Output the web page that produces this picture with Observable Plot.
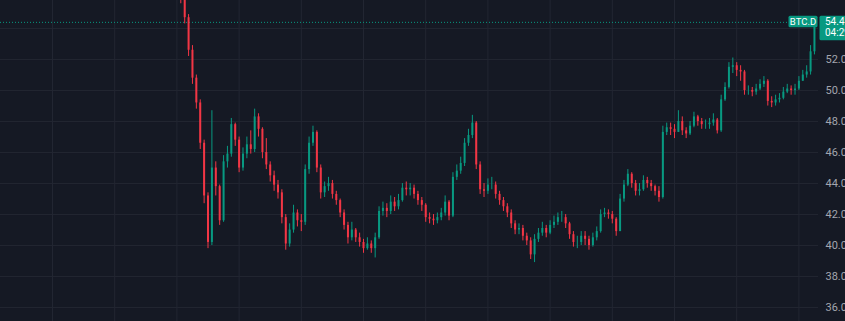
<!DOCTYPE html>
<html><head><meta charset="utf-8">
<script src="https://cdn.jsdelivr.net/npm/d3@7"></script>
<script src="https://cdn.jsdelivr.net/npm/@observablehq/plot@0.6"></script>
<style>html,body{margin:0;padding:0;background:#151924;overflow:hidden}</style>
</head><body><div id="chart"></div>
<script>
const symbol = "BTC.D";
const countdown = "04:29";
const lastPriceText = "54.41";
const firstIndex = 33;
const firstOpen = 58.0;
const closes = [
56.0,54.7,52.6,50.8,49.2,46.6,43.2,40.2,45.0,43.8,
41.6,45.4,45.9,47.8,46.8,45.0,45.9,46.5,46.2,48.3,
47.5,46.0,45.2,44.5,43.9,43.4,41.8,40.1,41.0,42.1,
41.6,41.5,44.9,46.6,47.3,45.0,43.4,43.8,44.0,43.3,
42.9,42.1,41.3,40.5,41.0,40.5,40.2,39.8,40.1,39.8,
40.5,42.2,42.4,42.2,42.8,42.5,42.9,43.7,43.6,43.7,
43.3,42.9,42.6,41.8,41.7,41.6,41.8,42.1,42.8,41.9,
44.4,44.8,45.3,46.6,47.1,47.9,45.2,43.6,43.5,43.9,
43.9,43.3,42.9,42.5,42.1,41.4,41.0,41.1,40.6,40.3,
39.4,40.4,40.8,41.1,40.8,41.3,41.5,41.8,41.8,41.4,
40.7,40.2,40.2,40.6,40.4,40.0,40.5,40.9,42.0,42.1,
42.0,41.7,40.9,43.0,43.9,44.6,44.0,43.5,43.6,44.2,
44.0,43.8,43.5,43.1,47.3,47.6,47.5,47.3,48.0,47.4,
47.2,47.7,48.3,48.0,47.8,47.8,47.9,48.1,47.4,49.4,
50.2,51.5,51.6,51.3,51.2,50.0,50.0,49.9,50.1,50.4,
50.6,49.3,49.2,49.4,49.5,49.9,50.1,50.0,50.1,50.6,
51.0,51.2,52.5,54.4
];
const highs = [
58.2,56.2,54.9,52.9,51.0,49.4,46.8,43.4,48.7,45.4,
43.9,45.8,46.4,48.2,47.9,47.0,46.3,47.0,47.4,48.8,
48.5,47.6,46.9,45.4,44.8,44.2,43.6,42.0,41.4,42.6,
42.3,42.0,45.2,47.0,47.7,47.4,45.2,44.1,44.4,44.2,
43.5,43.0,42.3,41.5,41.5,41.1,40.8,40.4,40.5,40.3,
40.8,42.5,42.8,42.7,43.2,43.1,43.3,44.0,44.1,44.0,
43.9,43.5,43.1,42.7,42.1,42.0,42.1,42.4,43.2,42.9,
44.7,45.2,45.7,46.9,47.5,48.4,48.0,45.4,44.0,44.3,
44.4,44.1,43.5,43.1,42.7,42.3,41.6,41.4,41.3,40.8,
40.5,40.7,41.1,41.5,41.3,41.6,41.9,42.1,42.2,42.0,
41.5,40.9,40.6,40.9,40.9,40.6,40.8,41.2,42.3,42.4,
42.3,42.2,41.8,43.3,44.2,44.9,44.7,44.2,44.0,44.5,
44.4,44.2,43.9,43.8,47.7,47.9,47.9,47.8,48.7,48.3,
47.6,48.0,48.6,48.4,48.2,48.1,48.2,48.5,48.2,49.7,
50.5,51.8,52.1,51.8,51.6,51.3,50.3,50.2,50.4,50.7,
50.9,50.7,49.6,49.7,49.8,50.2,50.4,50.3,50.4,50.9,
51.3,51.6,52.9,54.5
];
const lows = [
55.6,54.3,52.2,50.4,48.8,46.2,42.7,39.8,40.0,43.2,
41.3,41.5,45.0,45.7,46.4,44.7,44.8,45.6,45.9,46.0,
47.0,45.6,44.9,44.1,43.5,43.0,41.4,39.7,39.9,40.8,
41.2,40.9,41.3,44.6,46.4,44.7,43.0,43.1,43.5,43.0,
42.6,41.8,41.0,40.1,40.3,40.2,39.9,39.5,39.7,39.5,
39.2,40.4,41.9,41.8,42.0,42.2,42.3,42.8,43.2,43.2,
43.0,42.6,42.2,41.5,41.4,41.3,41.4,41.6,41.9,41.6,
41.8,44.2,44.6,45.1,46.4,46.9,44.9,43.3,43.1,43.3,
43.6,43.0,42.6,42.2,41.8,41.1,40.7,40.7,40.3,40.0,
39.1,38.9,40.2,40.6,40.5,40.7,41.1,41.3,41.5,41.1,
40.4,39.9,39.8,40.0,40.0,39.7,39.9,40.3,40.8,41.8,
41.7,41.4,40.6,40.9,42.8,43.8,43.7,43.2,43.2,43.5,
43.7,43.5,43.2,42.8,43.0,47.1,47.1,46.9,47.3,47.1,
46.9,47.1,47.6,47.7,47.5,47.5,47.5,47.7,47.2,47.3,
49.3,50.1,51.1,50.9,50.6,49.7,49.7,49.6,49.7,50.0,
50.2,49.0,48.9,49.0,49.2,49.4,49.8,49.7,49.7,50.0,
50.6,50.8,51.0,52.3
];
const priceTicks = [36, 38, 40, 42, 44, 46, 48, 50, 52];
const gridPrices = [36, 38, 40, 42, 44, 46, 48, 50, 52, 54];
const timeGrid = [0, 16, 32, 48, 64, 80, 96, 112, 128, 144, 160, 176, 192];

const UP = "#089981", DOWN = "#f23645";
const candles = closes.map((c, k) => ({
  i: firstIndex + k,
  open: k ? closes[k - 1] : firstOpen,
  close: c, high: highs[k], low: lows[k]
}));
candles.forEach(d => d.color = d.close >= d.open ? UP : DOWN);
const last = candles[candles.length - 1];

const plot = Plot.plot({
  width: 845, height: 321,
  marginLeft: 0, marginRight: 27, marginTop: 0, marginBottom: 0,
  style: {background: "#151924", color: "#a3a6af", fontFamily: "Roboto, sans-serif", fontSize: "11px"},
  x: {domain: [-13.38, 197.04], axis: null},
  y: {domain: [35.1, 55.81], axis: "right", ticks: priceTicks, tickFormat: d => d.toFixed(2), tickSize: 0, tickPadding: 7, label: null},
  color: {type: "identity"},
  marks: [
    Plot.ruleY(gridPrices, {stroke: "#222632", strokeWidth: 1}),
    Plot.ruleX(timeGrid, {stroke: "#222632", strokeWidth: 1}),
    Plot.ruleY([last.close], {stroke: UP, strokeWidth: 1, strokeDasharray: "1,2"}),
    Plot.ruleX(candles, {x: "i", y1: "low", y2: "high", stroke: "color", strokeWidth: 1}),
    Plot.ruleX(candles, {x: "i", y1: "open", y2: "close", stroke: "color", strokeWidth: 2})
  ]
});
document.getElementById("chart").appendChild(plot);

const svg = d3.select(plot);
const py = plot.scale("y").apply(last.close);
const g = svg.append("g").attr("font-family", "Roboto, sans-serif");
g.append("rect").attr("x", 788.5).attr("y", py - 6).attr("width", 29).attr("height", 11.5).attr("rx", 1.5).attr("fill", UP);
g.append("text").attr("x", 803).attr("y", py + 3.4).attr("text-anchor", "middle").attr("fill", "#ffffff").attr("font-size", 9.5).text(symbol);
g.append("rect").attr("x", 819.5).attr("y", py - 6).attr("width", 40).attr("height", 24.5).attr("rx", 1.5).attr("fill", UP);
g.append("text").attr("x", 825).attr("y", py + 3.5).attr("text-anchor", "start").attr("fill", "#ffffff").attr("font-size", 10).text(lastPriceText);
g.append("text").attr("x", 825).attr("y", py + 14.5).attr("text-anchor", "start").attr("fill", "#ffffff").attr("font-size", 10).text(countdown);
</script>
</body></html>
